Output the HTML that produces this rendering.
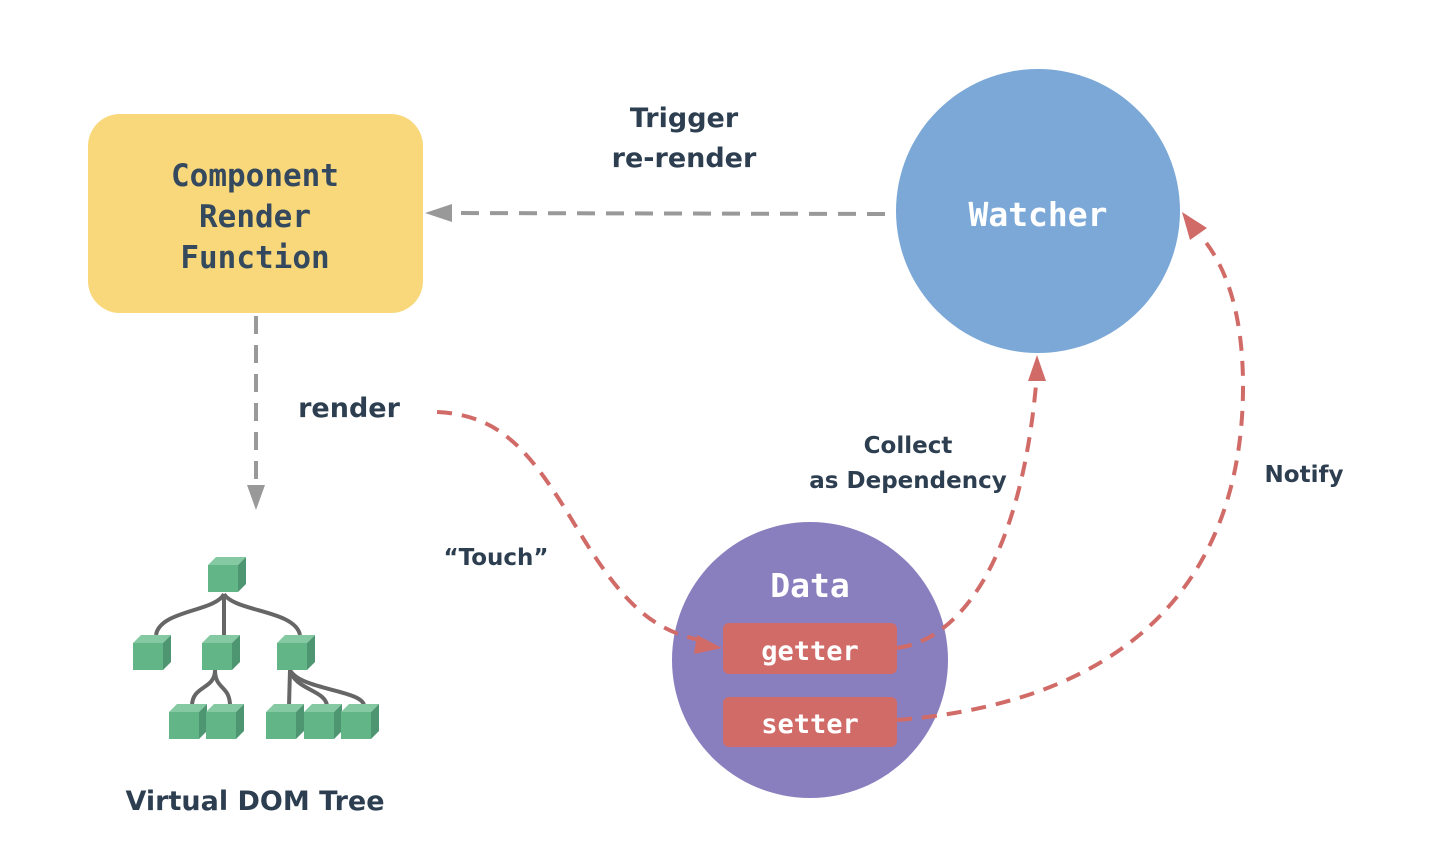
<!DOCTYPE html>
<html><head><meta charset="utf-8"><style>
html,body{margin:0;padding:0;background:#fff;}
svg{display:block;}
.m{font-family:"DejaVu Sans Mono","Liberation Mono",monospace;font-weight:bold;}
.s{font-family:"DejaVu Sans","Liberation Sans",sans-serif;font-weight:bold;fill:#2c3e50;}
</style></head><body>
<svg width="1456" height="864" viewBox="0 0 1456 864" xmlns="http://www.w3.org/2000/svg">
<defs>
<g id="cube">
<polygon points="0,8 8,0 38,0 30,8" fill="#85c9a3"/>
<polygon points="30,8 38,0 38,27 30,35" fill="#4e9571"/>
<rect x="0" y="8" width="30" height="27" fill="#62b587"/>
</g>
</defs>
<rect x="88" y="114" width="335" height="199" rx="32" fill="#f9d87c"/>
<text class="m" x="255" y="186" font-size="31" fill="#34495e" text-anchor="middle">Component</text>
<text class="m" x="255" y="227" font-size="31" fill="#34495e" text-anchor="middle">Render</text>
<text class="m" x="255" y="268" font-size="31" fill="#34495e" text-anchor="middle">Function</text>
<circle cx="1038" cy="211" r="142" fill="#7ba8d7"/>
<text class="m" x="1038" y="226" font-size="33" fill="#fff" text-anchor="middle">Watcher</text>
<circle cx="810" cy="660" r="138" fill="#8a7fbe"/>
<text class="m" x="810" y="597" font-size="33" fill="#fff" text-anchor="middle">Data</text>
<rect x="723" y="623" width="174" height="51" rx="6" fill="#d16b68"/>
<rect x="723" y="697" width="174" height="50" rx="6" fill="#d16b68"/>
<text class="m" x="810" y="660" font-size="27" fill="#fff" text-anchor="middle">getter</text>
<text class="m" x="810" y="733" font-size="27" fill="#fff" text-anchor="middle">setter</text>
<line x1="885" y1="214" x2="450" y2="213" stroke="#999" stroke-width="4" stroke-dasharray="18,11"/>
<polygon points="425,213 452,204 452,222" fill="#999"/>
<line x1="256" y1="316" x2="256" y2="486" stroke="#999" stroke-width="4" stroke-dasharray="18,11"/>
<polygon points="256,510 247,485 265,485" fill="#999"/>
<g fill="none" stroke="#d16b68" stroke-width="4" stroke-dasharray="15,10">
<path d="M437,412 C500,415 530,450 575,525 C620,600 650,630 700,640"/>
<path d="M897,648 C960,640 1020,560 1036,385"/>
<path d="M897,720 C1150,700 1245,560 1243,380 C1242,320 1230,270 1200,235"/>
</g>
<polygon points="722,648 697,635 694,654" fill="#d16b68"/>
<polygon points="1037,355 1028,381 1046,381" fill="#d16b68"/>
<polygon points="1182,212 1190,240 1207,228" fill="#d16b68"/>
<text class="s" x="684" y="127" font-size="27" text-anchor="middle">Trigger</text>
<text class="s" x="684" y="167" font-size="27" text-anchor="middle">re-render</text>
<text class="s" x="349" y="417" font-size="27" text-anchor="middle">render</text>
<text class="s" x="496" y="565" font-size="23" text-anchor="middle">“Touch”</text>
<text class="s" x="908" y="453" font-size="23" text-anchor="middle">Collect</text>
<text class="s" x="908" y="488" font-size="23" text-anchor="middle">as Dependency</text>
<text class="s" x="1304" y="482" font-size="23" text-anchor="middle">Notify</text>
<text class="s" x="255" y="810" font-size="27" text-anchor="middle">Virtual DOM Tree</text>
<g fill="none" stroke="#666" stroke-width="4">
<path d="M224,594 C215,612 160,610 156,635"/>
<path d="M224,594 L224,635"/>
<path d="M224,594 C235,612 295,610 300,635"/>
<path d="M215,670 C215,690 192,685 192,706"/>
<path d="M215,670 C215,690 230,685 230,706"/>
<path d="M290,670 L289,706"/>
<path d="M290,670 C295,690 326,690 327,706"/>
<path d="M290,670 C300,690 364,690 364,706"/>
</g>
<use href="#cube" x="208" y="557"/>
<use href="#cube" x="133" y="635"/>
<use href="#cube" x="202" y="635"/>
<use href="#cube" x="277" y="635"/>
<use href="#cube" x="169" y="704"/>
<use href="#cube" x="206" y="704"/>
<use href="#cube" x="266" y="704"/>
<use href="#cube" x="304" y="704"/>
<use href="#cube" x="341" y="704"/>
</svg>
</body></html>
